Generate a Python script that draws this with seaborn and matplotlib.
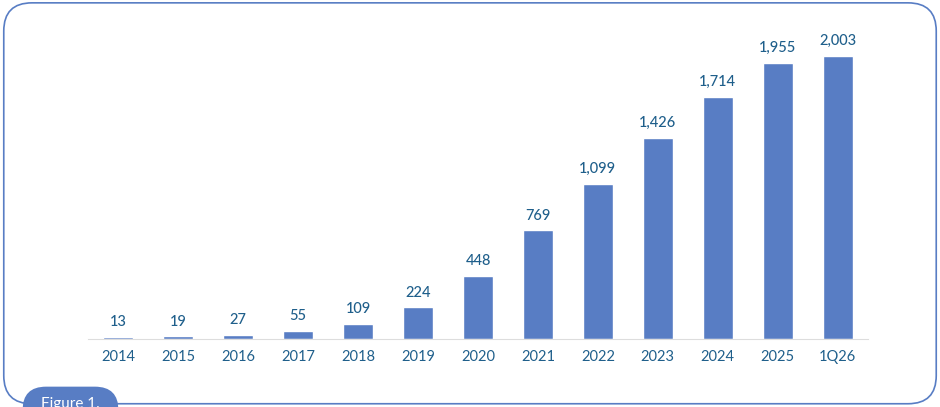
import matplotlib
matplotlib.use("Agg")
import matplotlib.pyplot as plt
import seaborn as sns
import pandas as pd
from matplotlib.patches import FancyBboxPatch

periods = ["2014", "2015", "2016", "2017", "2018", "2019", "2020",
           "2021", "2022", "2023", "2024", "2025", "1Q26"]
counts = [13, 19, 27, 55, 109, 224, 448, 769, 1099, 1426, 1714, 1955, 2003]

BAR = "#587dc4"
TXT = "#1f5f8b"

sns.set_style("white")
plt.rcParams['font.family'] = ['Lato', 'DejaVu Sans']

df = pd.DataFrame({"period": periods, "count": counts})

fig = plt.figure(figsize=(9.4, 4.07), dpi=100)
ax = fig.add_axes([0.094, 0.167, 0.829, 0.784])
sns.barplot(data=df, x="period", y="count", color=BAR, width=0.5, ax=ax, saturation=1)

for i, v in enumerate(counts):
    ax.text(i, v + 55, f"{v:,}", ha="center", va="bottom", color=TXT, fontsize=10.5, fontweight="medium")

ax.set_ylim(0, 2258)
ax.set_xlim(-0.5, len(periods) - 0.5)
ax.set_yticks([])
ax.set_xlabel("")
ax.set_ylabel("")
ax.tick_params(axis="x", length=0, pad=8, labelsize=10.5, labelcolor=TXT)
for s in ["top", "left", "right"]:
    ax.spines[s].set_visible(False)
ax.spines["bottom"].set_color("#dddddd")

# rounded frame
fig.patches.append(FancyBboxPatch((0.004, 0.008), 0.992, 0.985, boxstyle="round,pad=0,rounding_size=0.03",
                                  transform=fig.transFigure, fill=False, edgecolor="#587dc4", linewidth=1.2,
                                  mutation_aspect=940 / 407))
# figure tab
fig.patches.append(FancyBboxPatch((0.024, -0.05), 0.102, 0.1, boxstyle="round,pad=0,rounding_size=0.025",
                                  transform=fig.transFigure, facecolor="#587dc4", edgecolor="none",
                                  mutation_aspect=940 / 407))
fig.text(0.075, 0.008, "Figure 1.", color="white", fontsize=11, ha="center", va="center")

fig.savefig("out.png", dpi=100)
